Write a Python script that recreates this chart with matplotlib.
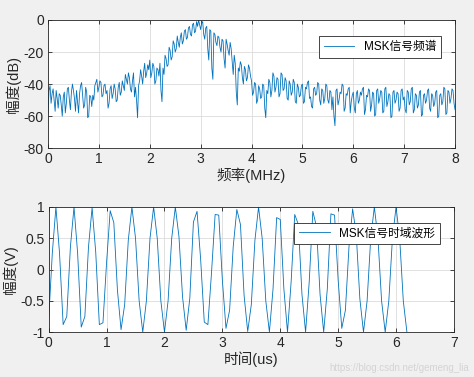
import matplotlib
matplotlib.use("Agg")
import matplotlib.pyplot as plt
from matplotlib.ticker import FuncFormatter

plt.rcParams['font.family'] = ['Liberation Sans', 'Noto Sans CJK SC', 'DejaVu Sans']
plt.rcParams['axes.unicode_minus'] = False

# spectrum, 0..8 MHz step 0.02
freq_step = 0.02
spec_db = [
    -58, -44, -41, -52, -46, -43, -50, -57, -44, -49, -55, -46, -47, -53, -60, -48,
    -45, -58, -52, -43, -42, -50, -56, -45, -40, -44, -49, -57, -44, -51, -58, -46,
    -41, -39, -47, -55, -53, -42, -45, -61, -60, -47, -48, -54, -47, -50, -41, -39, -37,
    -45, -42, -38, -39, -48, -47, -41, -40, -46, -44, -55, -52, -43, -41, -49, -46,
    -40, -43, -51, -50, -42, -39, -47, -45, -38, -41,
    -44, -34, -37, -40, -33, -36, -43, -45, -38, -33, -48, -42, -50, -61, -41, -38,
    -31, -35, -40, -32, -27, -36, -33, -28,
    -31, -25, -36, -33, -27, -29, -40, -38, -30, -31, -35, -27, -44, -51, -30, -34,
    -22, -24, -29, -28, -17, -19, -25, -23, -13, -15,
    -20, -18, -10, -14, -17, -11, -8, -15, -13, -7, -6, -12, -11, -5, -4, -9,
    -10, -3, -2, -8, -7, -1, -4, 0,
    -3, -6, -2, -1, -9, -12, -5, -4, -18, -25, -6, -7, -30, -37, -8, -9,
    -14, -16, -10, -11, -17, -20, -12, -13, -24, -30,
    -12, -15, -19, -22, -14, -18, -26, -34, -22, -27, -45, -53, -30, -32, -26, -28,
    -36, -40, -29, -31, -38, -36, -28, -30,
    -35, -38, -47, -45, -39, -40, -52, -50, -41, -43, -49, -48, -40, -41, -55, -61,
    -44, -46, -37, -39, -48, -44, -33, -35, -45, -42,
    -36, -37, -48, -46, -33, -34, -44, -43, -36, -38, -49, -50, -38, -40, -47, -45,
    -37, -39, -51, -52, -40, -42, -48, -47,
    -41, -40, -52, -51, -42, -43, -39, -38, -49, -48, -54, -55, -43, -42, -47, -46,
    -39, -40, -50, -53, -43, -44, -52, -49, -40, -41,
    -50, -52, -44, -45, -56, -48, -60, -66, -44, -43, -53, -50, -45, -46, -40, -41,
    -57, -55, -46, -47, -43, -42, -58, -51,
    -47, -45, -55, -58, -46, -44, -52, -50, -45, -47, -43, -42, -59, -56, -47, -48,
    -43, -44, -57, -53, -45, -46, -60, -59, -44, -43,
    -52, -49, -44, -45, -58, -57, -43, -42, -54, -51, -46, -47, -61, -60, -45, -44,
    -52, -50, -45, -46, -57, -55, -44, -43,
    -50, -48, -56, -58, -44, -45, -53, -51, -43, -42, -58, -56, -46, -47, -55, -53,
    -45, -44, -60, -59, -47, -46, -52, -50, -44, -43,
    -55, -57, -46, -47, -54, -52, -45, -44, -61, -60, -47, -46, -53, -51, -42, -43,
    -59, -58, -44, -45, -52, -49, -43, -44,
    -52, -56,
]

# time waveform, sample step 0.0625 us
time_step = 0.0625
wave_v = [
    -0.80, 0.26, 1.00, 0.26, -0.88, -0.75, 0.36, 1.00, 0.26, -0.92,
    -0.75, 0.36, 0.99, 0.28, -0.88, -0.85, 0.11, 0.94, 0.75, -0.33,
    -0.96, -0.56, 0.47, 1.00, 0.50, -0.50, -1.00, -0.50, 0.50, 1.00,
    0.50, -0.50, -1.00, -0.50, 0.50, 1.00, 0.53, -0.44, -0.97, -0.46,
    0.76, 0.93, 0.16, -0.84, -0.88, -0.05, 0.88, 0.87, -0.17, -0.94,
    -0.65, 0.37, 0.96, 0.72, -0.41, -0.99, -0.56, 0.47, 1.00, 0.50,
    -0.50, -1.00, -0.31, 0.83, 0.80, -0.31, -1.00, -0.20, 0.88, 0.72,
    -0.40, -1.00, -0.20, 0.93, 0.69, -0.40, -1.00, -0.31, 0.89, 0.87,
    -0.17, -0.94, -0.65, 0.37, 0.97, 0.56, -0.47, -1.00, -0.50, 0.50,
    1.00, 0.50, -0.50, -1.00, -0.50, 0.50, 1.00, 0.50, -0.50, -1.00,
]

freq = [i * freq_step for i in range(len(spec_db))]
t = [i * time_step for i in range(len(wave_v))]

line_color = "#0072BD"
tick_color = "#262626"
fig = plt.figure(figsize=(4.74, 3.77), dpi=100, facecolor="#F0F0F0")

ax1 = fig.add_axes([0.1013, 0.607, 0.8587, 0.340])
ax1.plot(freq, spec_db, color=line_color, linewidth=0.6, label="MSK信号频谱")
ax1.set_xlim(0, 8)
ax1.set_ylim(-80, 0)
ax1.set_xticks(range(0, 9))
ax1.set_yticks([-80, -60, -40, -20, 0])
ax1.set_xlabel("频率(MHz)", fontsize=10.5, color=tick_color, labelpad=1)
ax1.set_ylabel("幅度(dB)", fontsize=10.5, color=tick_color, labelpad=2)

ax2 = fig.add_axes([0.1027, 0.119, 0.8550, 0.332])
ax2.plot(t, wave_v, color=line_color, linewidth=0.6, label="MSK信号时域波形")
ax2.set_xlim(0, 7)
ax2.set_ylim(-1, 1)
ax2.set_xticks(range(0, 8))
ax2.set_yticks([-1, -0.5, 0, 0.5, 1])
ax2.set_xlabel("时间(us)", fontsize=10.5, color=tick_color, labelpad=1)
ax2.set_ylabel("幅度(V)", fontsize=10.5, color=tick_color, labelpad=2)

fmt = FuncFormatter(lambda v, p: f"{v:g}")
for ax in (ax1, ax2):
    ax.set_facecolor("white")
    ax.grid(True, color="#DCDCDC", linewidth=0.6)
    ax.set_axisbelow(True)
    ax.tick_params(direction="in", length=3, width=0.6, colors=tick_color,
                   labelsize=10, top=True, right=True, pad=3)
    ax.yaxis.set_major_formatter(fmt)
    for s in ax.spines.values():
        s.set_color("#262626")
        s.set_linewidth(0.6)
    leg = ax.legend(loc="upper right", fontsize=8.5, fancybox=False,
                    framealpha=1, edgecolor="#262626", borderpad=0.4,
                    handlelength=2.6, bbox_to_anchor=(0.98, 0.92))
    leg.get_frame().set_linewidth(0.6)

fig.text(0.99, 0.01, "https://blog.csdn.net/gemeng_lia", ha="right", va="bottom",
         fontsize=7, color="#D4D4D4")

fig.savefig("out.png", dpi=100, facecolor=fig.get_facecolor())
